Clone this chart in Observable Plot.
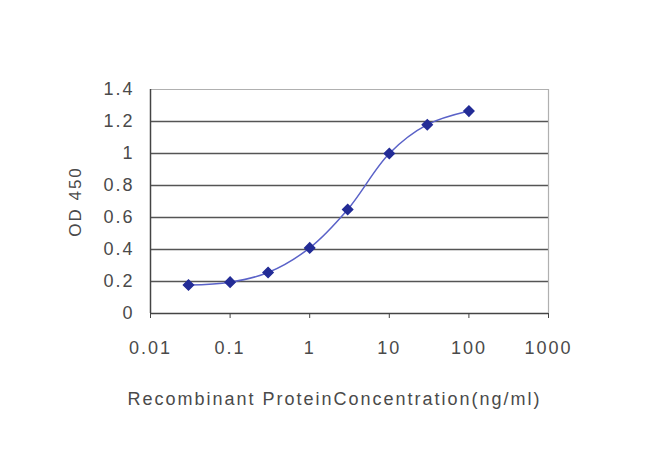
<!DOCTYPE html>
<html>
<head>
<meta charset="utf-8">
<script src="https://cdn.jsdelivr.net/npm/d3@7"></script>
<script src="https://cdn.jsdelivr.net/npm/@observablehq/plot@0.6"></script>
<style>
  html, body { margin: 0; padding: 0; background: #fff; }
  svg { display: block; }
  svg text { letter-spacing: 2px; }
</style>
</head>
<body>
<div id="chart"></div>
<script>
const concentrations = [0.03, 0.1, 0.3, 1, 3, 10, 30, 100];
const od450 = [0.178, 0.196, 0.256, 0.41, 0.65, 1.0, 1.18, 1.265];
const xTicks = [0.01, 0.1, 1, 10, 100, 1000];
const xTickLabels = ["0.01", "0.1", "1", "10", "100", "1000"];
const yTicks = [0, 0.2, 0.4, 0.6, 0.8, 1, 1.2, 1.4];
const gridValues = [0.2, 0.4, 0.6, 0.8, 1, 1.2];
const xTitle = "Recombinant ProteinConcentration(ng/ml)";
const yTitle = "OD 450";

const data = concentrations.map((c, i) => ({c, od: od450[i]}));

const plot = Plot.plot({
  width: 650,
  height: 466,
  marginLeft: 150,
  marginRight: 102,
  marginTop: 89,
  marginBottom: 153,
  style: {fontFamily: "'Liberation Sans', Arial, sans-serif", fontSize: "18px", background: "#fff"},
  x: {type: "log", domain: [0.01, 1000]},
  y: {domain: [0, 1.4]},
  marks: [
    Plot.ruleY(gridValues, {stroke: "#555", strokeWidth: 1.5}),
    Plot.ruleY([1.4], {stroke: "#b0b0b0", strokeWidth: 1.2}),
    Plot.ruleX([1000], {stroke: "#b0b0b0", strokeWidth: 1.2}),
    Plot.ruleX([0.01], {stroke: "#444", strokeWidth: 1.5}),
    Plot.ruleY([0], {stroke: "#444", strokeWidth: 1.5}),
    Plot.axisX({
      ticks: xTicks,
      tickFormat: d => xTickLabels[xTicks.indexOf(d)],
      tickSize: 5,
      tickPadding: 23,
      stroke: "#444",
      fill: "#4a4a4a",
      fontSize: 18,
      label: null
    }),
    Plot.axisY({
      ticks: yTicks,
      tickFormat: d => String(d),
      tickSize: 0,
      tickPadding: 16,
      fill: "#4a4a4a",
      fontSize: 18,
      label: null
    }),
    Plot.text([yTitle], {
      frameAnchor: "left", textAnchor: "middle", dx: -75, rotate: -90, text: d => d,
      fill: "#4a4a4a", fontSize: 17
    }),
    Plot.text([xTitle], {
      frameAnchor: "bottom", dx: -15, dy: 79, lineAnchor: "top", text: d => d,
      fill: "#4a4a4a", fontSize: 18
    }),
    Plot.line(data, {x: "c", y: "od", stroke: "#5a62c8", strokeWidth: 1.5, curve: "catmull-rom"}),
    Plot.dot(data, {x: "c", y: "od", symbol: "diamond2", r: 4.5, fill: "#232c96", stroke: "#232c96"})
  ]
});
document.getElementById("chart").appendChild(plot);
</script>
</body>
</html>
